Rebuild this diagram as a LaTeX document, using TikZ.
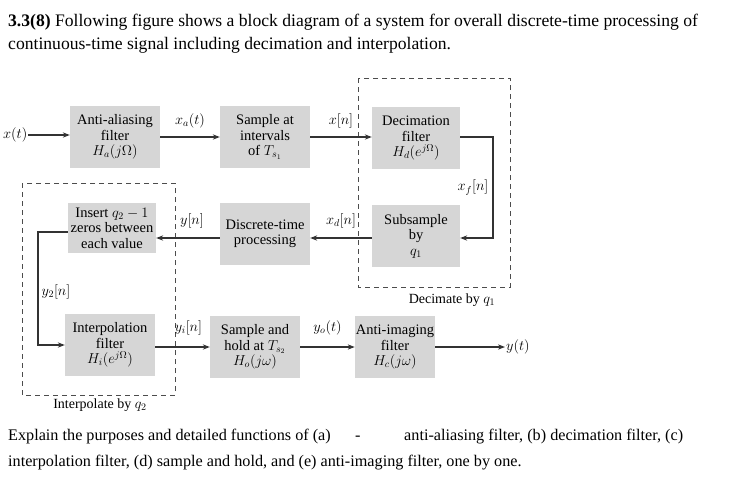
\documentclass[tikz,border=0pt]{standalone}
\usepackage{fontspec}
\setmainfont{Liberation Serif}
\usetikzlibrary{arrows.meta}
\begin{document}
\begin{tikzpicture}[x=1pt,y=-1pt,
  blk/.style={fill=black!16,minimum width=90pt,minimum height=62pt,align=center,font=\fontsize{14.5}{15.5}\selectfont,inner sep=1pt},
  sig/.style={draw=black!80,line width=1.3pt,-{Stealth[length=7pt]}},
  dbox/.style={draw=black!70,dashed,dash pattern=on 5pt off 4pt,line width=0.7pt},
  lab/.style={font=\fontsize{14}{15}\selectfont,inner sep=1pt},
  txt/.style={font=\fontsize{17.6}{19}\selectfont,anchor=west,inner sep=0pt}]
\useasboundingbox (0,0) rectangle (735,485);
\node[txt] (h1) at (8,22) {\textbf{3.3(8)} Following figure shows a block diagram of a system for overall discrete-time processing of};
\node[txt] (h2) at (8,45) {continuous-time signal including decimation and interpolation.};
\node[blk] (aa) at (115,137) {Anti-aliasing\\filter\\$H_a(j\Omega)$};
\node[blk] (sa) at (265,137) {Sample at\\intervals\\of $T_{s_1}$};
\node[blk,minimum width=88pt] (df) at (416,138) {Decimation\\filter\\$H_d(e^{j\Omega})$};
\node[blk,minimum width=88pt,minimum height=50pt] (ins) at (112,228) {Insert $q_2-1$\\zeros between\\each value};
\node[blk] (dt) at (265,234) {Discrete-time\\processing};
\node[blk,minimum width=88pt] (ss) at (416,236) {Subsample\\by\\$q_1$};
\node[blk] (ip) at (110,345) {Interpolation\\filter\\$H_i(e^{j\Omega})$};
\node[blk] (sh) at (255,347) {Sample and\\hold at $T_{s_2}$\\$H_o(j\omega)$};
\node[blk,minimum width=76pt] (ai) at (395,347) {Anti-imaging\\filter\\$H_c(j\omega)$};
\draw[dbox] (358,78) rectangle (510,287);
\draw[dbox] (22,183) rectangle (175,395);
\node[lab] (dl) at (452,300) {Decimate by $q_1$};
\node[lab] (il) at (100,405) {Interpolate by $q_2$};
\node[lab,anchor=west] (xt) at (2,135) {$x(t)$};
\draw[sig] (xt) -- (aa.west|-xt);
\draw[sig] (aa.east) -- node[lab,above=7pt] {$x_a(t)$} (sa.west);
\draw[sig] (sa.east) -- node[lab,above=7pt] {$x[n]$} (sa.east-|df.west);
\coordinate (c1) at (493,137);
\coordinate (c2) at (493,238);
\draw[sig] (df.east|-c1) -- (c1) -- node[lab,left=3pt,pos=0.5] {$x_f[n]$} (c2) -- (ss.east|-c2);
\draw[sig] (ss.west|-c2) -- node[lab,above=8pt] {$x_d[n]$} (dt.east|-c2);
\draw[sig] (dt.west|-c2) -- node[lab,above=8pt,xshift=4pt] {$y[n]$} (ins.east|-c2);
\coordinate (c3) at (38,232);
\coordinate (c4) at (38,345);
\draw[sig] (ins.west|-c3) -- (c3) -- node[lab,right=2pt,pos=0.53] {$y_2[n]$} (c4) -- (ip.west);
\coordinate (c5) at (0,347);
\draw[sig] (ip.east|-c5) -- node[lab,above=10pt,xshift=6pt] {$y_i[n]$} (sh.west);
\draw[sig] (sh.east) -- node[lab,above=10pt] {$y_o(t)$} (ai.west);
\node[lab,anchor=west] (yt) at (505,347) {$y(t)$};
\draw[sig] (ai.east|-yt) -- (yt);
\node[txt,font=\fontsize{16.2}{18}\selectfont] (f1) at (8,437) {Explain the purposes and detailed functions of (a) \hspace{1em} - \hspace{2.2em} anti-aliasing filter, (b) decimation filter, (c)};
\node[txt,font=\fontsize{16.2}{18}\selectfont] (f2) at (8,463) {interpolation filter, (d) sample and hold, and (e) anti-imaging filter, one by one.};
\end{tikzpicture}
\end{document}
